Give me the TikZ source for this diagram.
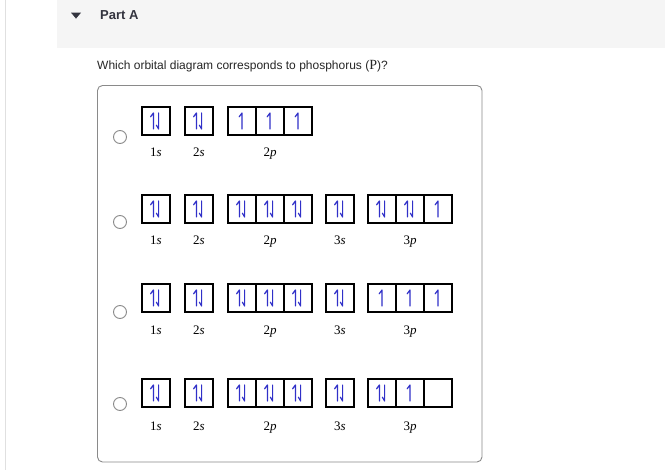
\documentclass[tikz,border=0pt]{standalone}
\usepackage{fontspec}
\usetikzlibrary{shapes.geometric}
\setmainfont{Liberation Sans}
\newfontfamily\serfont{Liberation Serif}
\definecolor{spinblue}{HTML}{3030C8}
\definecolor{bandgray}{HTML}{F5F5F5}
\definecolor{framegray}{HTML}{8A8A8A}
\definecolor{textdark}{HTML}{33343F}
\tikzset{
  orb/.style={draw=black, line width=1.1pt, minimum width=28pt, minimum height=28pt, inner sep=0pt, outer sep=0pt},
  spin/.style={draw=spinblue, line width=1.2pt, line cap=round, line join=round},
  radio/.style={draw=framegray, line width=0.9pt, fill=white, circle, minimum size=13pt, inner sep=0pt},
  lbl/.style={font=\serfont\fontsize{13}{15}\selectfont, inner sep=0pt, anchor=base},
  spinpair/.pic={\draw[spin] (-2.6,8) -- (-2.6,-8) -- (-5.4,-4.2); \draw[spin] (2.6,-8) -- (2.6,8) -- (0.4,4.2);},
  spinup/.pic={\draw[spin] (0,8) -- (0,-8) -- (-2.8,-4.2);},
  spinnone/.pic={}
}
\newcommand{\orbrow}[3]{%
  % #1 row id, #2 box top y, #3 list of xcenter/kind
  \foreach \xx/\kk [count=\ii] in {#3} {
    \node[orb] (#1b\ii) at (\xx,#2+14) {};
    \pic at (#1b\ii.center) {spin\kk};
  }
}
\begin{document}
\begin{tikzpicture}[x=1pt,y=-1pt]
\useasboundingbox (0,0) rectangle (665,470);
\fill[white] (0,0) rectangle (665,470);
% left rule
\draw[draw=black!12, line width=1pt] (5,0) -- (5,470);
% header band
\fill[bandgray] (57,0) rectangle (665,48);
\node[fill=textdark, isosceles triangle, shape border rotate=-90, isosceles triangle apex angle=80, minimum width=10pt, minimum height=5pt, inner sep=0pt] (tri) at (76,15) {};
\node[anchor=west, inner sep=0pt, text=textdark, font=\bfseries\fontsize{13}{15}\selectfont] (parta) at (100,15) {Part A};
\node[anchor=west, inner sep=0pt, text=black!85, font=\fontsize{12}{14}\selectfont] (q) at (97,66.5) {Which orbital diagram corresponds to phosphorus ({\serfont\fontsize{14}{15}\selectfont P})?};
% options frame
\draw[framegray, line width=0.9pt, rounded corners=5pt] (97.5,85.5) rectangle (482,462);
% row 1
\orbrow{ra}{107}{156/pair,199/pair,242/up,270/up,298/up}
\node[radio] (rada) at (120,137) {};
\node[lbl] (ra1s) at (156,157) {1\textit{s}};
\node[lbl] (ra2s) at (199,157) {2\textit{s}};
\node[lbl] (ra2p) at (270,157) {2\textit{p}};
% row 2
\orbrow{rb}{195}{156/pair,199/pair,242/pair,270/pair,298/pair,340/pair,382/pair,410/pair,438/up}
\node[radio] (radb) at (120,222) {};
\node[lbl] (rb1s) at (156,245) {1\textit{s}};
\node[lbl] (rb2s) at (199,245) {2\textit{s}};
\node[lbl] (rb2p) at (270,245) {2\textit{p}};
\node[lbl] (rb3s) at (340,245) {3\textit{s}};
\node[lbl] (rb3p) at (410,245) {3\textit{p}};
% row 3
\orbrow{rc}{284}{156/pair,199/pair,242/pair,270/pair,298/pair,340/pair,382/up,410/up,438/up}
\node[radio] (radc) at (120,312) {};
\node[lbl] (rc1s) at (156,335) {1\textit{s}};
\node[lbl] (rc2s) at (199,335) {2\textit{s}};
\node[lbl] (rc2p) at (270,335) {2\textit{p}};
\node[lbl] (rc3s) at (340,335) {3\textit{s}};
\node[lbl] (rc3p) at (410,335) {3\textit{p}};
% row 4
\orbrow{rd}{379}{156/pair,199/pair,242/pair,270/pair,298/pair,340/pair,382/pair,410/up,438/none}
\node[radio] (radd) at (120,404) {};
\node[lbl] (rd1s) at (156,431) {1\textit{s}};
\node[lbl] (rd2s) at (199,431) {2\textit{s}};
\node[lbl] (rd2p) at (270,431) {2\textit{p}};
\node[lbl] (rd3s) at (340,431) {3\textit{s}};
\node[lbl] (rd3p) at (410,431) {3\textit{p}};
\end{tikzpicture}
\end{document}
